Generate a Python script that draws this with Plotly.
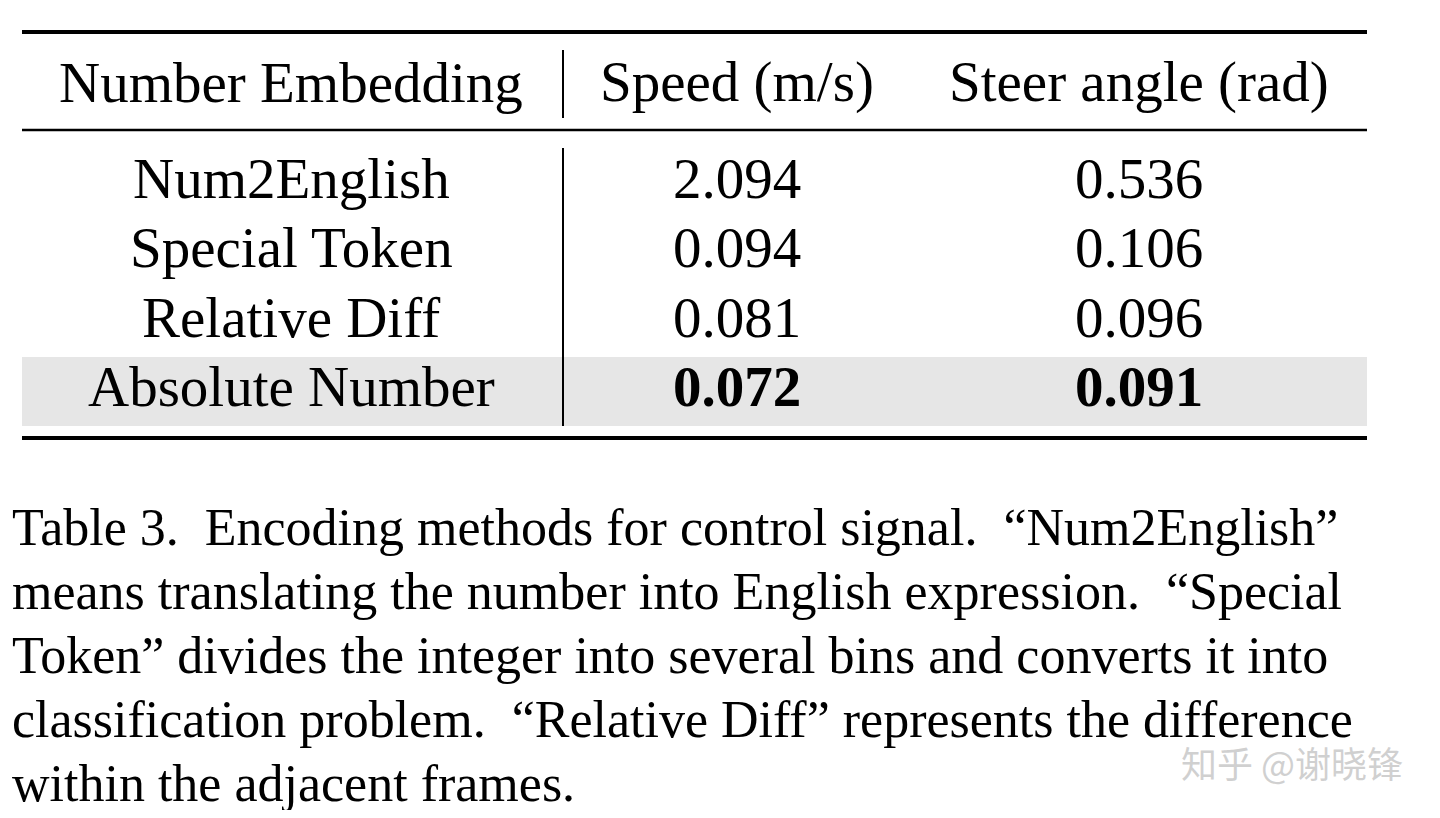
import plotly.graph_objects as go

headers = ["Number Embedding", "Speed (m/s)", "Steer angle (rad)"]
methods = ["Num2English", "Special Token", "Relative Diff", "Absolute Number"]
speed = ["2.094", "0.094", "0.081", "0.072"]
steer = ["0.536", "0.106", "0.096", "0.091"]
best_row = 3
caption = [
    "Table 3.  Encoding methods for control signal.  \u201cNum2English\u201d",
    "means translating the number into English expression.  \u201cSpecial",
    "Token\u201d divides the integer into several bins and converts it into",
    "classification problem.  \u201cRelative Diff\u201d represents the difference",
    "within the adjacent frames.",
]

# page body has an 8px margin, so shift the visible range by that much
OFF = 8
W, H = 1440 - 2 * OFF, 818 - 2 * OFF
col_x = [291, 737, 1139]
header_y = 82
row_y0, row_dy = 178, 69.5
cap_y0, cap_dy = 527, 64
FONT = "Liberation Serif, Times New Roman, serif"

fig = go.Figure()
shapes = []
ann = []

# highlighted row
shapes.append(dict(type="rect", x0=22, x1=1367, y0=357, y1=426,
                   fillcolor="#e6e6e6", line_width=0, layer="below"))
# rules
shapes.append(dict(type="line", x0=22, x1=1367, y0=32, y1=32, line=dict(color="black", width=4)))
shapes.append(dict(type="line", x0=22, x1=1367, y0=130, y1=130, line=dict(color="black", width=2.5)))
shapes.append(dict(type="line", x0=22, x1=1367, y0=438, y1=438, line=dict(color="black", width=4)))
shapes.append(dict(type="line", x0=563, x1=563, y0=50, y1=118, line=dict(color="black", width=2)))
shapes.append(dict(type="line", x0=563, x1=563, y0=148, y1=426, line=dict(color="black", width=2)))

for x, h in zip(col_x, headers):
    ann.append(dict(x=x, y=header_y, text=h, font=dict(size=57)))

for i, (m, s, a) in enumerate(zip(methods, speed, steer)):
    y = row_y0 + i * row_dy
    for x, t in zip(col_x, [m, s, a]):
        if i == best_row and t != m:
            t = f"<b>{t}</b>"
        ann.append(dict(x=x, y=y, text=t, font=dict(size=57)))

for i, line in enumerate(caption):
    ann.append(dict(x=10, y=cap_y0 + i * cap_dy, text=line, xanchor="left",
                    font=dict(size=52)))

ann.append(dict(x=1405, y=762, text="知乎 @谢晓锋", xanchor="right",
                font=dict(size=36, color="rgba(200,200,200,0.85)",
                          family="Noto Sans CJK SC")))

for a in ann:
    a.setdefault("xanchor", "center")
    a.update(showarrow=False, yanchor="middle", xref="x", yref="y")
    a["font"].setdefault("family", FONT)
    a["font"].setdefault("color", "black")

fig.update_layout(
    width=W, height=H, margin=dict(l=0, r=0, t=0, b=0),
    plot_bgcolor="white", paper_bgcolor="white",
    xaxis=dict(range=[OFF, OFF + W], visible=False, fixedrange=True),
    yaxis=dict(range=[OFF + H, OFF], visible=False, fixedrange=True),
    shapes=shapes, annotations=ann, showlegend=False,
)
fig.write_html("out.html")
